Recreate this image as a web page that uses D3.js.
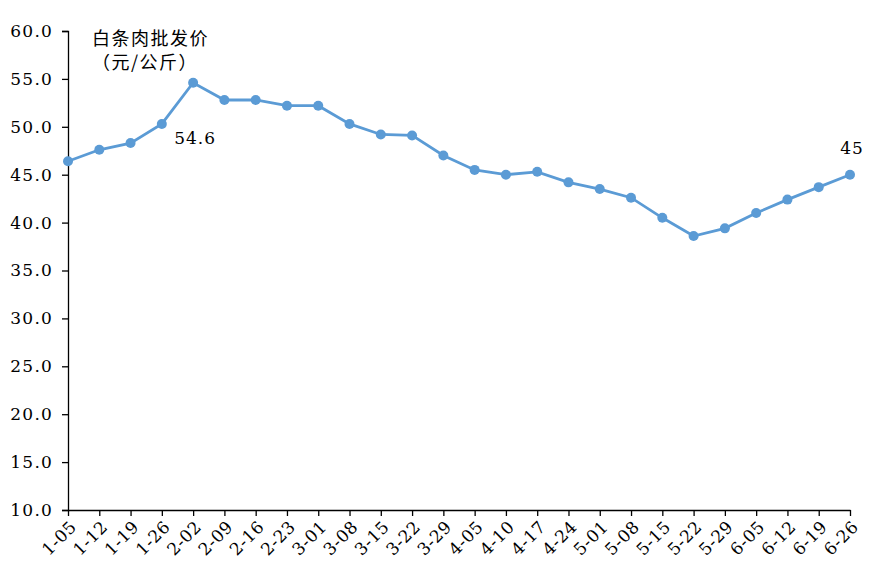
<!DOCTYPE html>
<html>
<head>
<meta charset="utf-8">
<script src="https://cdn.jsdelivr.net/npm/d3@7"></script>
<style>
  body { margin: 0; background: #fff; }
  text { font-family: "DejaVu Serif", "Liberation Serif", serif; }
  .cjk { font-family: "Noto Sans CJK SC", sans-serif; }
</style>
</head>
<body>
<div id="container"></div>
<script>
// data
var weeks = ["1-05","1-12","1-19","1-26","2-02","2-09","2-16","2-23","3-01","3-08",
             "3-15","3-22","3-29","4-05","4-10","4-17","4-24","5-01","5-08","5-15",
             "5-22","5-29","6-05","6-12","6-19","6-26"];
var prices = [46.4, 47.6, 48.3, 50.3, 54.6, 52.8, 52.8, 52.2, 52.2, 50.3,
              49.2, 49.1, 47.0, 45.5, 45.0, 45.3, 44.2, 43.5, 42.6, 40.5,
              38.6, 39.4, 41.0, 42.4, 43.7, 45.0];
var yTicks = [10, 15, 20, 25, 30, 35, 40, 45, 50, 55, 60];
var titleLines = ["白条肉批发价", "（元/公斤）"];
var labelled = {"2-02": "54.6", "6-26": "45"};

var margin = {top: 31, right: 22, bottom: 63, left: 68},
    width = 872 - margin.left - margin.right,
    height = 573 - margin.top - margin.bottom;

var svg = d3.select("#container")
  .append("svg")
    .attr("width", 872)
    .attr("height", 573)
  .append("g")
    .attr("transform", "translate(" + margin.left + "," + margin.top + ")");

var x = d3.scalePoint()
    .domain(weeks)
    .range([0, width]);

var y = d3.scaleLinear()
    .domain([10, 60])
    .range([height, 0]);

// y axis
var yAxis = svg.append("g")
    .call(d3.axisLeft(y).tickValues(yTicks).tickSize(6).tickFormat(d3.format(".1f")));
yAxis.selectAll("text")
    .attr("x", -15)
    .style("font-size", "17px")
    .style("letter-spacing", "1.2px")
    .style("fill", "#000");
yAxis.selectAll("line, path").attr("stroke", "#000").attr("stroke-width", 1.3);

// x axis
var xAxis = svg.append("g")
    .attr("transform", "translate(0," + height + ")")
    .call(d3.axisBottom(x).tickSize(6).tickSizeOuter(0));
xAxis.selectAll("line, path").attr("stroke", "#000").attr("stroke-width", 1.3);
xAxis.selectAll("text")
    .style("font-size", "17px")
    .style("letter-spacing", "0.5px")
    .style("fill", "#000")
    .style("text-anchor", "end")
    .attr("dy", 0)
    .attr("y", 0)
    .attr("transform", "translate(9,18) rotate(-45)");

// line
var line = d3.line()
    .x(function(d, i) { return x(weeks[i]); })
    .y(function(d) { return y(d); });

svg.append("path")
    .datum(prices)
    .attr("fill", "none")
    .attr("stroke", "#5B9BD5")
    .attr("stroke-width", 2.8)
    .attr("d", line);

svg.selectAll("circle")
    .data(prices)
  .enter().append("circle")
    .attr("cx", function(d, i) { return x(weeks[i]); })
    .attr("cy", function(d) { return y(d); })
    .attr("r", 5)
    .attr("fill", "#5B9BD5");

// data labels
svg.selectAll(".dlabel")
    .data(weeks.filter(function(w) { return labelled[w]; }))
  .enter().append("text")
    .attr("class", "dlabel")
    .attr("x", function(w) { return x(w) + 2; })
    .attr("y", function(w) {
      var v = prices[weeks.indexOf(w)];
      return w == "6-26" ? y(v) - 21 : y(v) + 61;
    })
    .style("text-anchor", "middle")
    .style("font-size", "17px")
    .style("letter-spacing", "1px")
    .text(function(w) { return labelled[w]; });

// title
svg.selectAll(".ttl")
    .data(titleLines)
  .enter().append("text")
    .attr("class", "ttl cjk")
    .attr("x", 24)
    .attr("y", function(d, i) { return 14 + i * 24; })
    .style("font-size", "18px")
    .style("letter-spacing", "1.5px")
    .text(function(d) { return d; });
</script>
</body>
</html>
